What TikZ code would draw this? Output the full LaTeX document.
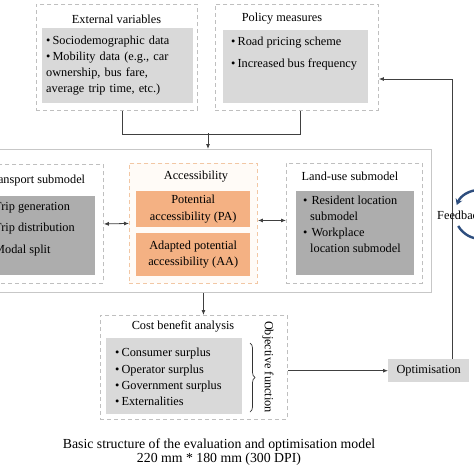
\documentclass[tikz,border=0pt]{standalone}
\usepackage{fontspec}
\setmainfont{Liberation Serif}
\usetikzlibrary{arrows.meta,decorations.pathreplacing}
\definecolor{boxgrey}{HTML}{D9D9D9}
\definecolor{darkgrey}{HTML}{ADADAD}
\definecolor{peach}{HTML}{F4B183}
\definecolor{peachline}{HTML}{F2C7A4}
\definecolor{cream}{HTML}{FFFBF7}
\definecolor{cyclecol}{HTML}{2E4E7E}

\begin{document}
\begin{tikzpicture}[x=1pt, y=-1pt,
  every node/.style={font=\fontsize{12.3}{16}\selectfont, inner sep=0pt},
  frame/.style={draw=black!25, dash pattern=on 4pt off 3pt, line width=0.9pt, fill=white, anchor=north west},
  panel/.style={fill=boxgrey, anchor=north west},
  darkpanel/.style={fill=darkgrey, anchor=north west},
  peachpanel/.style={fill=peach, anchor=north west, align=center, font=\fontsize{12.3}{16.5}\selectfont},
  link/.style={draw=black!75, line width=0.8pt},
  arrow/.style={link, -{Latex[length=5pt,width=4pt]}},
  twoway/.style={link, {Latex[length=5pt,width=4pt]}-{Latex[length=5pt,width=4pt]}}
]
\useasboundingbox (0,0) rectangle (474,474);
\fill[white] (0,0) rectangle (474,474);
\clip (0,0) rectangle (474,474);

% inputs
\node[frame, minimum width=161, minimum height=106] (ext) at (36,4) {};
\node (exttitle) at (116.5,19) {External variables};
\node[panel, minimum width=151, minimum height=75, text width=143, inner xsep=4pt, align=left] (extpanel) at (42,28)
  {\textbullet\,Sociodemographic data\\\textbullet\,Mobility data (e.g., car\\ownership, bus fare,\\average trip time, etc.)};

\node[frame, minimum width=163, minimum height=106] (pol) at (215,4) {};
\node (poltitle) at (282,19) {Policy measures};
\node[panel, minimum width=145, minimum height=73] (polpanel) at (223,30) {};
\node[anchor=north west, align=left] (poltext) at (231,37)
  {\textbullet\,Road pricing scheme\\[6pt]\textbullet\,Increased bus frequency};

% model
\node[draw=black!22, line width=1.2pt, anchor=north west, minimum width=436, minimum height=143] (model) at (-5,149) {};

\node[frame, minimum width=123, minimum height=119] (trans) at (-20,164) {};
\node (transtitle) at (36,181) {Transport submodel};
\node[darkpanel, minimum width=115, minimum height=79] (transpanel) at (-20,196) {};
\node[anchor=west, align=left] (transtext) at (-6,229)
  {Trip generation\\[5.5pt]Trip distribution\\[5.5pt]Modal split};

\node[frame, draw=peachline, fill=cream, minimum width=128, minimum height=120] (access) at (129,163) {};
\node (accesstitle) at (196,177) {Accessibility};
\node[peachpanel, minimum width=114, minimum height=36] (pa) at (136,191) {Potential\\accessibility (PA)};
\node[peachpanel, minimum width=114, minimum height=43] (aa) at (136,233) {Adapted potential\\accessibility (AA)};

\node[frame, minimum width=136, minimum height=120] (land) at (286,163) {};
\node (landtitle) at (350,176) {Land-use submodel};
\node[darkpanel, minimum width=118, minimum height=84] (landpanel) at (296,191) {};
\node[anchor=north west, align=left] (landtext) at (303,196)
  {\textbullet\hspace{4pt}Resident location\\\hspace*{7pt}submodel\\\textbullet\hspace{4pt}Workplace\\\hspace*{7pt}location submodel};

% evaluation
\node[frame, minimum width=187, minimum height=104] (cba) at (100,315) {};
\node (cbatitle) at (183,326) {Cost benefit analysis};
\node[panel, minimum width=136, minimum height=76] (cbapanel) at (106,338) {};
\node[anchor=west, align=left, font=\fontsize{12.3}{16.3}\selectfont] (cbatext) at (115,377)
  {\textbullet\,Consumer surplus\\\textbullet\,Operator surplus\\\textbullet\,Government surplus\\\textbullet\,Externalities};
\coordinate (bracetop) at (250,343);
\coordinate (bracebot) at (250,412);
\draw[black!80, line width=0.7pt, decorate, decoration={brace, amplitude=5pt}] (bracetop) -- (bracebot);
\node[rotate=-90] (objfun) at (268,367) {Objective function};

\node[panel, minimum width=81, minimum height=23] (opt) at (388,359) {Optimisation};

% connectors
\draw[link] ([xshift=5.5pt]ext.south) -- ++(0,23) -| ([xshift=3.5pt]pol.south);
\coordinate (merge) at (208,133);
\draw[arrow] (merge) -- (merge |- model.north);
\draw[twoway] (trans.east) -- (access.west);
\draw[twoway] ([yshift=3pt]access.east) -- ([yshift=3pt]land.west);
\coordinate (cbatop) at ([xshift=9.5pt]cba.north);
\draw[arrow] (model.south -| cbatop) -- (cbatop);
\draw[arrow] (cba.east |- opt.west) -- (opt.west);
\coordinate (fbturn) at (452,79);
\draw[arrow] (opt.north -| fbturn) -- (fbturn) -- (fbturn -| pol.east);

% feedback loop
\coordinate (loop) at (479,214);
\draw[cyclecol, line width=2.4pt, -{Stealth[length=6pt,width=7pt]}] (loop) ++(-90:24) arc[start angle=-90, end angle=-158, radius=24];
\draw[cyclecol, line width=2.4pt, -{Stealth[length=6pt,width=7pt]}] (loop) ++(-210:24) arc[start angle=-210, end angle=-280, radius=24];
\node[anchor=west] (fbtext) at (437,215) {Feedback};

% caption
\node[align=center, font=\fontsize{13.8}{14}\selectfont] (caption) at (219,452)
  {Basic structure of the evaluation and optimisation model\\220 mm * 180 mm (300 DPI)};
\end{tikzpicture}
\end{document}
